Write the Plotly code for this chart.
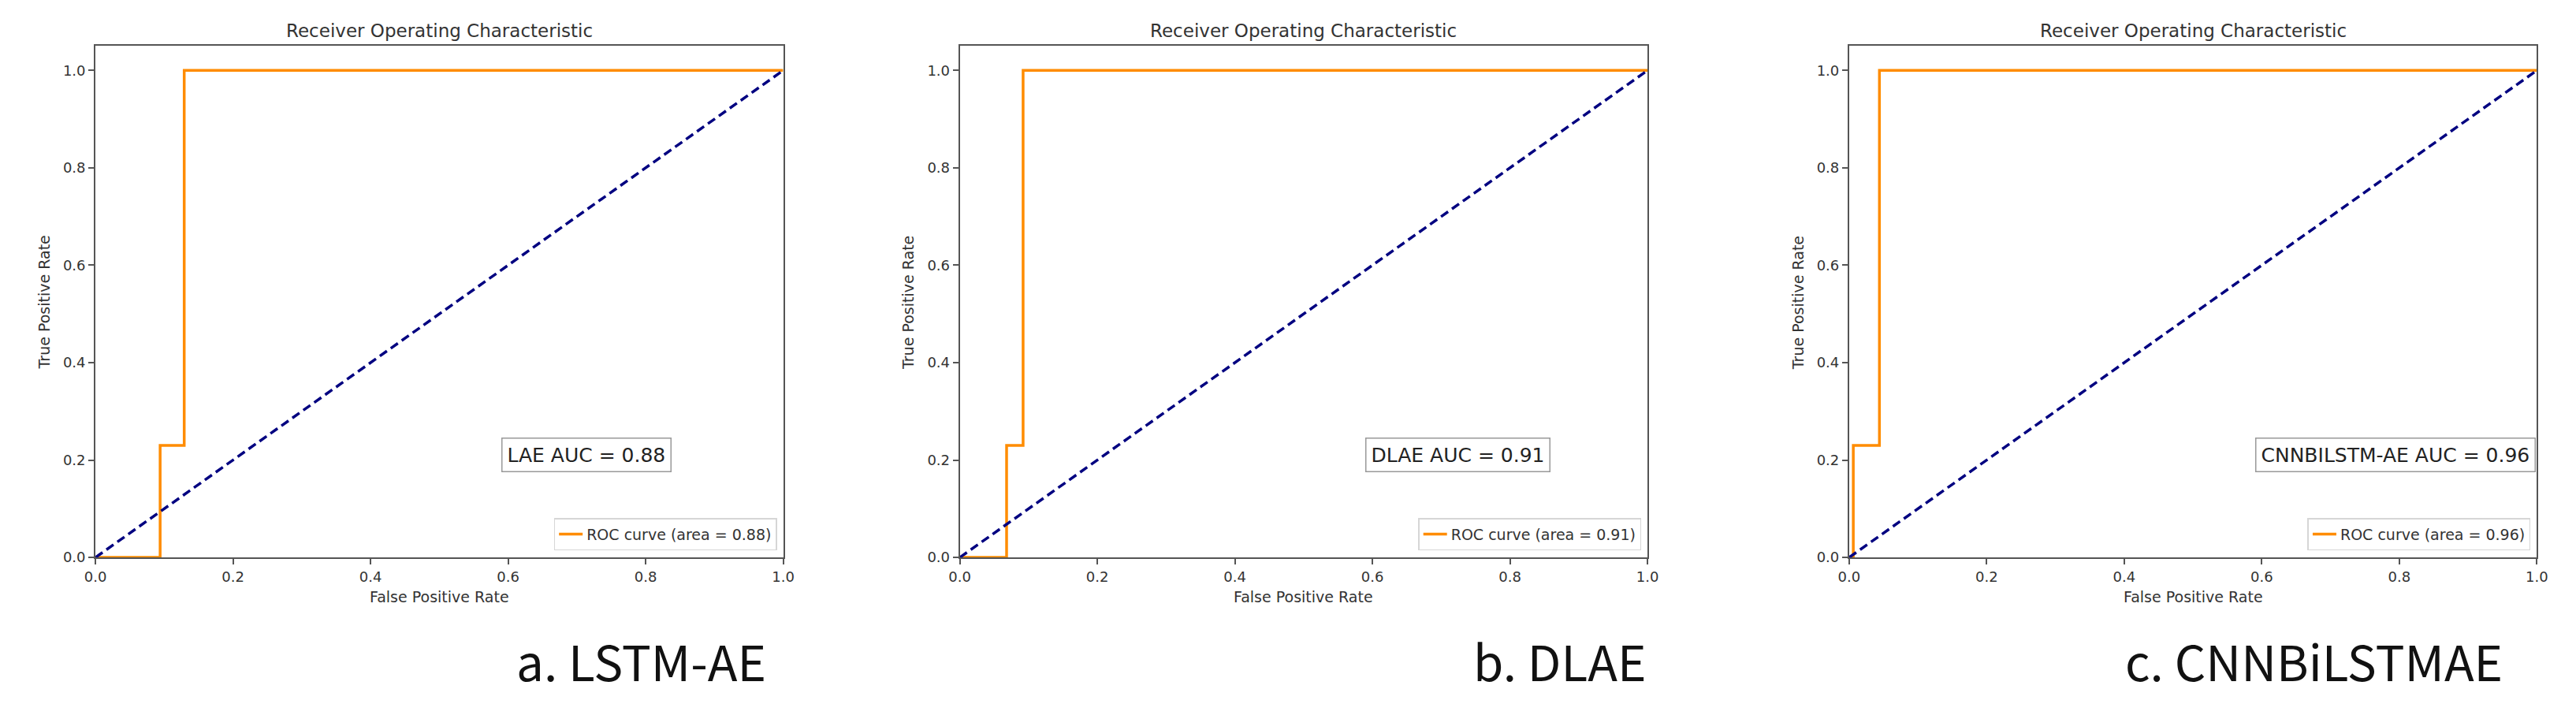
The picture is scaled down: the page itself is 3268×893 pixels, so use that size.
import plotly.graph_objects as go

# ROC-Daten
fpr_lstm = [0.0, 0.094, 0.094, 0.129, 0.129, 1.0]
tpr_lstm = [0.0, 0.0, 0.23, 0.23, 1.0, 1.0]

fpr_dlae = [0.0, 0.068, 0.068, 0.092, 0.092, 1.0]
tpr_dlae = [0.0, 0.0, 0.23, 0.23, 1.0, 1.0]

fpr_cnn = [0.0, 0.006, 0.006, 0.044, 0.044, 1.0]
tpr_cnn = [0.0, 0.0, 0.23, 0.23, 1.0, 1.0]

auc_values = [0.88, 0.91, 0.96]
model_names = ["LAE", "DLAE", "CNNBILSTM-AE"]
panel_labels = ["a. LSTM-AE", "b. DLAE", "c. CNNBiLSTMAE"]
diag = [0.0, 1.0]
tick_vals = [0.0, 0.2, 0.4, 0.6, 0.8, 1.0]

W, H = 3268, 893
# Achsenbereiche in Pixeln (links, rechts), oben/unten gemeinsam
panels_px = [(100, 980), (1206, 2086), (2344, 3224)]
top_px, bottom_px = 51, 707
label_right_px = [960, 2086, 3182]

curves = [(fpr_lstm, tpr_lstm), (fpr_dlae, tpr_dlae), (fpr_cnn, tpr_cnn)]

fig = go.Figure()
axis_color = "#555555"
text_color = "#333333"
base_font = "DejaVu Sans"

annotations = []
layout_extra = {}
for i, ((fpr, tpr), (left, right)) in enumerate(zip(curves, panels_px)):
    n = "" if i == 0 else str(i + 1)
    xa, ya = "x" + n, "y" + n
    leg = "legend" + n

    fig.add_trace(go.Scatter(
        x=fpr, y=tpr, mode="lines", xaxis=xa, yaxis=ya, legend=leg,
        line=dict(color="darkorange", width=3.5),
        name="ROC curve (area = %.2f)" % auc_values[i]))
    fig.add_trace(go.Scatter(
        x=diag, y=diag, mode="lines", xaxis=xa, yaxis=ya, showlegend=False,
        line=dict(color="navy", width=3.5, dash="11px,6px")))

    axis_common = dict(
        showgrid=False, zeroline=False, showline=True, mirror=True,
        linecolor=axis_color, linewidth=2, ticks="outside", ticklen=7,
        tickwidth=1.5, tickcolor=axis_color, tickvals=tick_vals,
        tickformat=".1f", tickfont=dict(family=base_font, size=18, color=text_color))
    layout_extra["xaxis" + n] = dict(
        axis_common, domain=[left / W, right / W], range=[0, 1], anchor=ya)
    layout_extra["yaxis" + n] = dict(
        axis_common, domain=[1 - bottom_px / H, 1 - top_px / H],
        range=[0, 1.05], anchor=xa)

    layout_extra[leg] = dict(
        x=(right - 8) / W, y=1 - (bottom_px - 9) / H,
        xanchor="right", yanchor="bottom", bgcolor="white",
        bordercolor="#d6d6d6", borderwidth=1.5,
        font=dict(family=base_font, size=19, color=text_color))

    cx = (left + right) / 2 / W
    # Titel und Achsenbeschriftungen
    annotations.append(dict(
        text="Receiver Operating Characteristic", xref="paper", yref="paper",
        x=cx, y=1 - 31 / H, showarrow=False, xanchor="center", yanchor="middle",
        font=dict(family=base_font, size=23, color=text_color)))
    annotations.append(dict(
        text="False Positive Rate", xref="paper", yref="paper",
        x=cx, y=1 - 757 / H, showarrow=False, xanchor="center", yanchor="middle",
        font=dict(family=base_font, size=19, color=text_color)))
    annotations.append(dict(
        text="True Positive Rate", xref="paper", yref="paper", textangle=-90,
        x=(left - 66) / W, y=1 - 380 / H, showarrow=False,
        xanchor="center", yanchor="middle",
        font=dict(family=base_font, size=19, color=text_color)))
    # AUC-Box
    annotations.append(dict(
        text="%s AUC = %.2f" % (model_names[i], auc_values[i]),
        xref=xa, yref=ya, x=0.59, y=0.21, showarrow=False,
        xanchor="left", yanchor="middle", bordercolor="#999999",
        borderwidth=1.5, borderpad=6, bgcolor="white",
        font=dict(family=base_font, size=25, color="#222222")))
    # Unterschrift unter jedem Diagramm
    annotations.append(dict(
        text=panel_labels[i], xref="paper", yref="paper",
        x=label_right_px[i] / W, y=1 - 838 / H, showarrow=False,
        xanchor="right", yanchor="middle",
        font=dict(family="Noto Sans CJK KR", size=62, color="#111111")))

fig.update_layout(
    width=W, height=H, margin=dict(l=0, r=0, t=0, b=0),
    plot_bgcolor="white", paper_bgcolor="white",
    annotations=annotations, **layout_extra)

fig.write_html("out.html")
